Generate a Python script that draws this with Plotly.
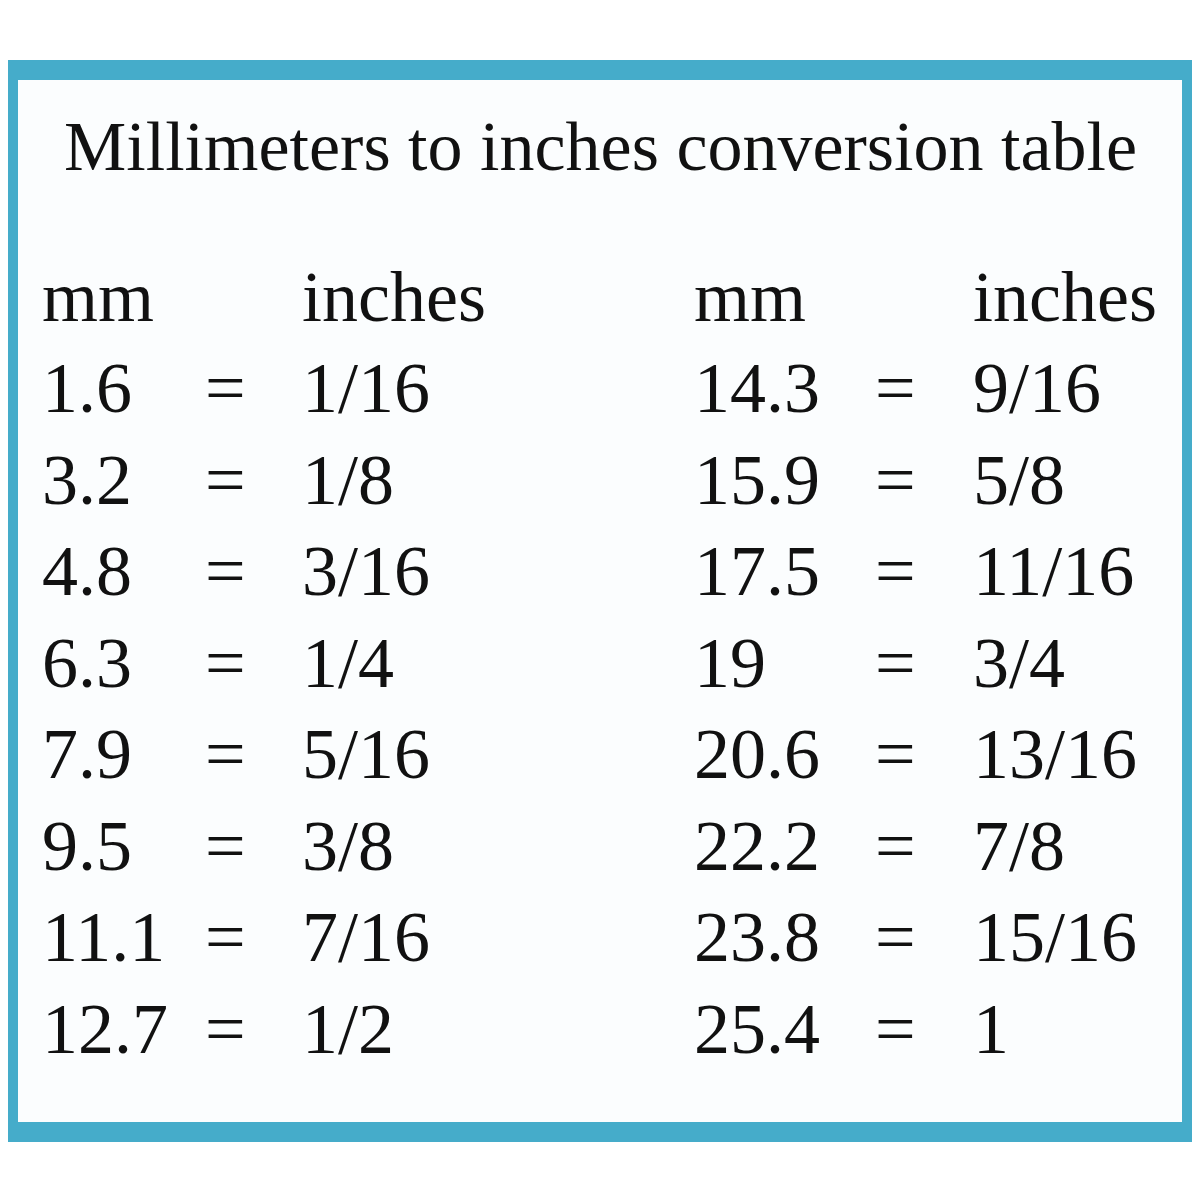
import plotly.graph_objects as go

title = "Millimeters to inches conversion table"
headers = ["mm", "inches"]
mm_left = ["1.6", "3.2", "4.8", "6.3", "7.9", "9.5", "11.1", "12.7"]
in_left = ["1/16", "1/8", "3/16", "1/4", "5/16", "3/8", "7/16", "1/2"]
mm_right = ["14.3", "15.9", "17.5", "19", "20.6", "22.2", "23.8", "25.4"]
in_right = ["9/16", "5/8", "11/16", "3/4", "13/16", "7/8", "15/16", "1"]

FONT = "Liberation Serif"
fs = 72
D = 8  # page offset compensation
row_y = [388 - D + 91.5 * i for i in range(len(mm_left))]

fig = go.Figure()
shapes = [
    dict(type="rect", x0=-D, x1=1200, y0=60 - D, y1=1142 - D, fillcolor="#45acca", line_width=0, layer="below"),
    dict(type="rect", x0=18 - D, x1=1182 - D, y0=80 - D, y1=1122 - D, fillcolor="#fbfdfe", line_width=0, layer="below"),
]
ann = [dict(x=600 - D, y=146 - D, text=title, font=dict(family=FONT, size=70, color="#111"),
            showarrow=False, xanchor="center", yanchor="middle")]

def col(xs, texts, ys, anchor="left"):
    for t, y in zip(texts, ys):
        ann.append(dict(x=xs - D, y=y, text=t, font=dict(family=FONT, size=fs, color="#111"),
                        showarrow=False, xanchor=anchor, yanchor="middle"))

for x_mm, x_in in [(40, 300), (692, 971)]:
    col(x_mm, [headers[0]], [297 - D])
    col(x_in, [headers[1]], [297 - D])
col(40, mm_left, row_y)
col(225, ["="] * len(mm_left), row_y, "center")
col(300, in_left, row_y)
col(692, mm_right, row_y)
col(895, ["="] * len(mm_right), row_y, "center")
col(971, in_right, row_y)

fig.update_layout(width=1200, height=1200, margin=dict(l=0, r=0, t=0, b=0),
                  paper_bgcolor="white", plot_bgcolor="white", shapes=shapes, annotations=ann,
                  xaxis=dict(range=[0, 1200], visible=False, fixedrange=True),
                  yaxis=dict(range=[1200, 0], visible=False, fixedrange=True),
                  showlegend=False)
fig.write_html("out.html")
